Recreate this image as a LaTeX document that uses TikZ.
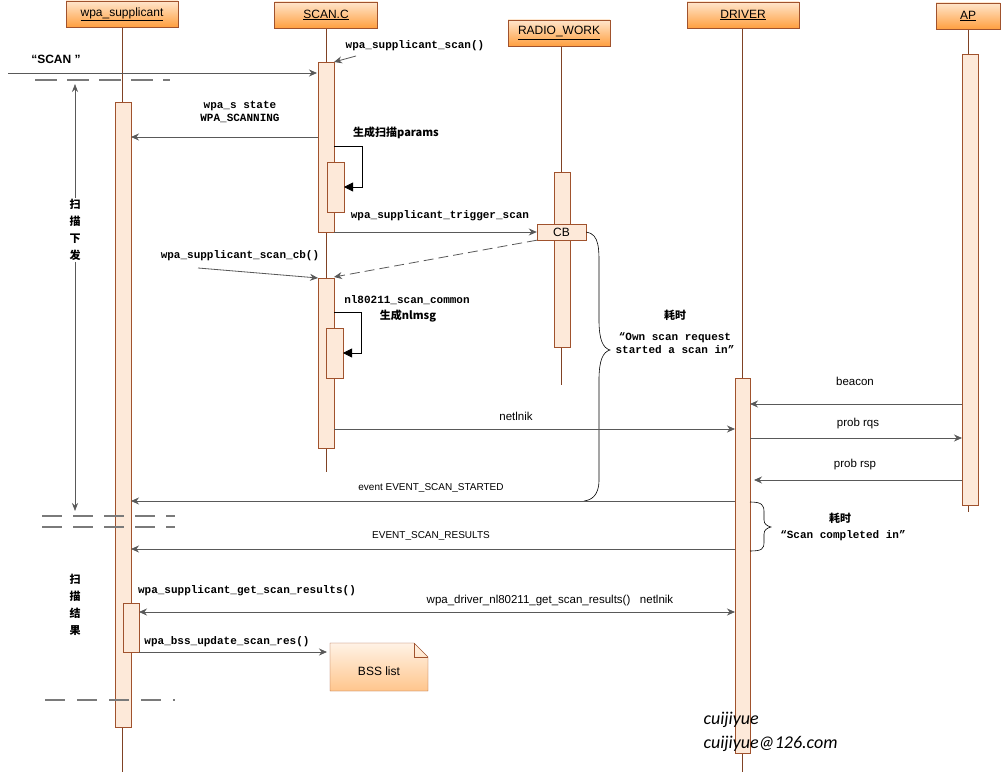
\documentclass[tikz,border=0pt]{standalone}
\usepackage{fontspec}
\setmainfont{Liberation Sans}
\newfontfamily\cjk{Noto Sans CJK SC}
\newfontfamily\codef{Liberation Mono}
\newfontfamily\sig{Carlito}
\usetikzlibrary{arrows.meta,decorations.pathreplacing,shapes.misc}
\definecolor{brd}{HTML}{A0522D}
\definecolor{actf}{HTML}{FDE9D9}
\definecolor{ln}{HTML}{595959}
\tikzset{
 hdr/.style={draw=brd,top color=orange!20,bottom color=orange!75,minimum height=26,inner sep=3,font=\fontsize{12}{14}\selectfont},
 act/.style={draw=brd,fill=actf},
 life/.style={draw=brd!80!black,line width=0.6},
 msg/.style={ln,line width=0.8,-{Stealth[length=8,width=7]}},
 cd/.style={font=\codef\bfseries\fontsize{11}{13}\selectfont},
 sl/.style={font=\fontsize{11.5}{13}\selectfont},
 zh/.style={font=\cjk\bfseries\fontsize{11}{13}\selectfont},
 dsh/.style={ln!80,line width=1.5,dash pattern=on 22 off 10},
}
\begin{document}
\begin{tikzpicture}[x=1pt,y=-1pt]
\useasboundingbox (0,0) rectangle (1002,773);
% lifelines
\coordinate (w0) at (122,27); \coordinate (w1) at (122,772);
\coordinate (s0) at (326,28); \coordinate (s1) at (326,472);
\coordinate (r0) at (561,47); \coordinate (r1) at (561,385);
\coordinate (d0) at (742,28); \coordinate (d1) at (742,772);
\coordinate (a0) at (968,30); \coordinate (a1) at (968,512);
\foreach \p in {w,s,r,d,a} \draw[life] (\p0) -- (\p1);
% headers
\node[hdr,minimum width=112] (hw) at (122,14) {\underline{wpa\_supplicant}};
\node[hdr,minimum width=103] (hs) at (326,15) {\underline{SCAN.C}};
\node[hdr,minimum width=102] (hr) at (559,33) {\underline{RADIO\_WORK}};
\node[hdr,minimum width=112] (hd) at (743,15) {\underline{DRIVER}};
\node[hdr,minimum width=64] (ha) at (968,16) {\underline{AP}};
% activations
\draw[act] (115,102) rectangle (131,727);
\draw[act] (318,62) rectangle (334,232);
\draw[act] (327,162) rectangle (344,212);
\draw[act] (318,278) rectangle (334,448);
\draw[act] (326,328) rectangle (343,378);
\draw[act] (554,172) rectangle (570,347);
\draw[act] (735,378) rectangle (750,753);
\draw[act] (962,54) rectangle (978,505);
\draw[act] (123,603) rectangle (139,652);
\node[draw=brd,fill=actf,minimum width=49,minimum height=16,inner sep=0,font=\fontsize{12}{13}\selectfont] (cb) at (561.5,232) {CB};
% coordinates
\coordinate (in) at (8,73); \coordinate (sa) at (317,73);
\coordinate (wsA) at (356,56); \coordinate (wsB) at (334,62);
\coordinate (cbA) at (198,268); \coordinate (cbB) at (318,278);
% messages
\node[font=\bfseries\fontsize{12}{14}\selectfont] (tscan) at (56,59) {“SCAN ”};
\draw[msg] (in) -- (sa);
\draw[dsh] (35,80) -- (170,80);
\node[cd] (l1) at (415,46) {wpa\_supplicant\_scan()};
\draw[msg] (wsA) -- (wsB);
\node[cd,align=center] (l2) at (240,112) {wpa\_s state\\WPA\_SCANNING};
\draw[msg] (318,137) -- (131,137);
\node[zh] (l3) at (396,133) {生成扫描params};
\draw[black,line width=0.8,-{Triangle[length=9,width=9]}] (334,146) -- (362,146) -- (362,187) -- (344,187);
\node[cd] (l4) at (440,216) {wpa\_supplicant\_trigger\_scan};
\draw[msg] (334,232) -- (cb.west);
\draw[msg,dashed,dash pattern=on 10 off 5] (cb.south west) -- (334,277);
\node[cd] (l5) at (240,256) {wpa\_supplicant\_scan\_cb()};
\draw[msg] (cbA) -- (cbB);
\node[cd] (l6) at (407,300) {nl80211\_scan\_common};
\node[zh] (l7) at (408,316) {生成nlmsg};
\draw[black,line width=0.8,-{Triangle[length=9,width=9]}] (334,312) -- (361,312) -- (361,353) -- (343,353);
% big brace
\draw[black,line width=0.6] (cb.east) .. controls (600,234) and (599,250) .. (599,270) -- (599,320) .. controls (599,340) and (603,348) .. (610,350) .. controls (603,352) and (599,360) .. (599,380) -- (599,480) .. controls (599,495) and (592,500) .. (584,501);
\node[zh] (l8) at (675,315) {耗时};
\node[cd,align=center] (l9) at (675,343) {“Own scan request\\started a scan in”};
\node[sl] (l10) at (516,416) {netlnik};
\draw[msg] (334,429) -- (735,429);
\node[sl] (l11) at (855,381) {beacon};
\draw[msg] (962,404) -- (750,404);
\node[sl] (l12) at (858,424) {prob rqs};
\draw[msg] (750,438) -- (962,438);
\node[sl] (l13) at (855,465) {prob rsp};
\draw[msg] (962,480) -- (754,480);
\node[font=\fontsize{10}{11}\selectfont] (l14) at (431,488) {event EVENT\_SCAN\_STARTED};
\draw[msg] (735,501) -- (131,501);
\draw[dsh,dash pattern=on 20 off 11] (42,516) -- (175,516);
\draw[dsh,dash pattern=on 20 off 11] (42,527) -- (175,527);
\draw[black,line width=0.6] (750,502) .. controls (762,502) and (764,505) .. (764,512) -- (764,520) .. controls (764,524) and (767,526) .. (771,527) .. controls (767,528) and (764,530) .. (764,534) -- (764,542) .. controls (764,549) and (762,551) .. (750,551);
\node[zh] (l15) at (840,518) {耗时};
\node[cd] (l16) at (843,536) {“Scan completed in”};
\node[font=\fontsize{10}{11}\selectfont] (l17) at (431,536) {EVENT\_SCAN\_RESULTS};
\draw[msg] (735,549) -- (131,549);
% left vertical arrows
\node[zh,align=center,inner sep=1] (v1) at (75,230) {扫\\[4pt]描\\[4pt]下\\[4pt]发};
\draw[ln,line width=0.6,-{Stealth[length=8,width=6]}] (v1.north) -- (75,84);
\draw[ln,line width=0.6,-{Stealth[length=8,width=6]}] (v1.south) -- (75,511);
\node[zh,align=center] (v2) at (75,605) {扫\\[4pt]描\\[4pt]结\\[4pt]果};
\node[cd] (l18) at (247,591) {wpa\_supplicant\_get\_scan\_results()};
\draw[ln,line width=0.8,{Stealth[length=8,width=7]}-{Stealth[length=8,width=7]}] (139,612) -- (735,612);
\node[sl] (l19) at (550,601) {wpa\_driver\_nl80211\_get\_scan\_results()\ \ \ netlnik};
\node[cd] (l20) at (227,642) {wpa\_bss\_update\_scan\_res()};
\draw[msg] (139,652) -- (327,652);
\draw[brd,top color=orange!10,bottom color=orange!45] (330,643) -- (414,643) -- (428,657) -- (428,691) -- (330,691) -- cycle;
\draw[brd] (414,643) -- (414,657) -- (428,657);
\node[font=\fontsize{12}{14}\selectfont] (bss) at (379,671) {BSS list};
\draw[dsh,dash pattern=on 20 off 12] (45,700) -- (175,700);
\node[anchor=west,font=\sig\itshape\fontsize{18}{20}\selectfont] (sg1) at (700,720) {cuijiyue};
\node[anchor=west,font=\sig\itshape\fontsize{18}{20}\selectfont] (sg2) at (700,744) {cuijiyue@126.com};
\end{tikzpicture}
\end{document}
